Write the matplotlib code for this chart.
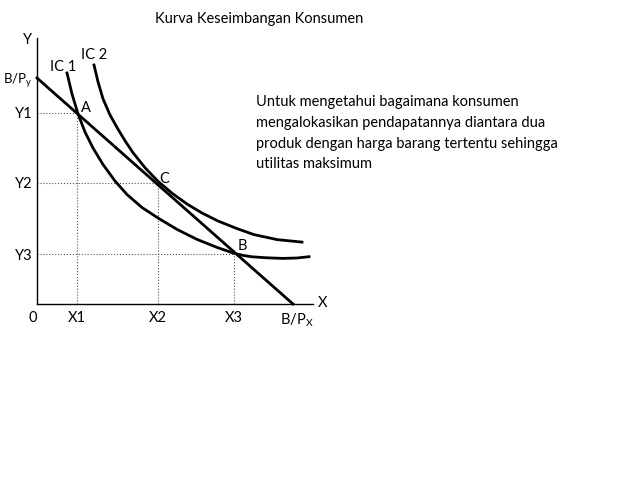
import matplotlib.pyplot as plt

plt.rcParams['font.family'] = ['Lato', 'DejaVu Sans']

# Budget line intercepts
budget_x = [0, 256]
budget_y = [226, 0]

# Indifference curves
ic1_x = [30, 35, 41, 48, 56, 66, 78, 90, 105, 121, 140, 160, 180, 197, 206, 215, 230, 246, 260, 272]
ic1_y = [231, 210, 190.2, 172, 156, 139.5, 123, 109.5, 96.5, 86, 74.6, 64.6, 56.6, 50.7, 48.6, 47.2, 46.2, 45.6, 46, 47.3]
ic2_x = [57, 61, 66, 73, 80, 88, 96, 108, 121, 135, 150, 165, 181, 200, 217, 240, 265]
ic2_y = [239, 222.2, 205.2, 189.1, 176.5, 163.3, 151.3, 136.3, 122.7, 110.8, 100, 91, 83, 75.4, 69.4, 64.4, 61.9]

# Points A, C, B
pt_names = ['A', 'C', 'B']
pt_x = [40, 121, 197]
pt_y = [191, 121, 50]

x_ticks = [40, 121, 197, 260]
x_labels = ['X1', 'X2', 'X3', r'B/P$_\mathregular{X}$']
y_ticks = [191, 121, 50, 226]
y_labels = ['Y1', 'Y2', 'Y3', r'B/P$_\mathregular{y}$']

fs = 10.5

fig = plt.figure(figsize=(6.38, 4.79), dpi=100)
ax = fig.add_axes([37 / 638, 175 / 479, 276 / 638, 266 / 479])
ax.set_xlim(0, 276)
ax.set_ylim(0, 266)

for s in ['top', 'right']:
    ax.spines[s].set_visible(False)
for s in ['left', 'bottom']:
    ax.spines[s].set_linewidth(1.0)

# dotted guides
for px, py in zip(pt_x, pt_y):
    ax.plot([0, px], [py, py], color='#555555', linestyle=':', linewidth=0.8)
    ax.plot([px, px], [0, py], color='#555555', linestyle=':', linewidth=0.8)

ax.plot(budget_x, budget_y, color='black', linewidth=2.0, clip_on=False)
ax.plot(ic1_x, ic1_y, color='black', linewidth=2.0, solid_joinstyle='round', clip_on=False)
ax.plot(ic2_x, ic2_y, color='black', linewidth=2.0, solid_joinstyle='round', clip_on=False)

offsets = {'A': (4, 5), 'C': (1.5, 4), 'B': (4, 8)}
for name, px, py in zip(pt_names, pt_x, pt_y):
    dx, dy = offsets[name]
    ax.text(px + dx, py + dy, name, fontsize=fs, ha='left', va='center')

ax.set_xticks(x_ticks)
ax.set_xticklabels(x_labels, fontsize=fs)
ax.set_yticks(y_ticks)
ax.set_yticklabels(y_labels, fontsize=fs)
ax.get_yticklabels()[3].set_fontsize(9.5)
ax.tick_params(length=0, pad=3)
ax.tick_params(axis='x', pad=5)

ax.text(-4, -14, '0', fontsize=fs, ha='center', va='center', clip_on=False)
ax.text(286, 1, 'X', fontsize=fs, ha='center', va='center', clip_on=False)
ax.text(-9, 264, 'Y', fontsize=fs, ha='center', va='center', clip_on=False)
ax.text(26, 237, 'IC 1', fontsize=fs, ha='center', va='center', clip_on=False)
ax.text(57, 249, 'IC 2', fontsize=fs, ha='center', va='center', clip_on=False)

fig.text(155 / 638, 1 - 19 / 479, 'Kurva Keseimbangan Konsumen', fontsize=fs, ha='left', va='center')
fig.text(256 / 638, 1 - 95 / 479,
         'Untuk mengetahui bagaimana konsumen\n'
         'mengalokasikan pendapatannya diantara dua\n'
         'produk dengan harga barang tertentu sehingga\n'
         'utilitas maksimum',
         fontsize=fs, ha='left', va='top', linespacing=1.62)

fig.savefig('out.png', dpi=100)
